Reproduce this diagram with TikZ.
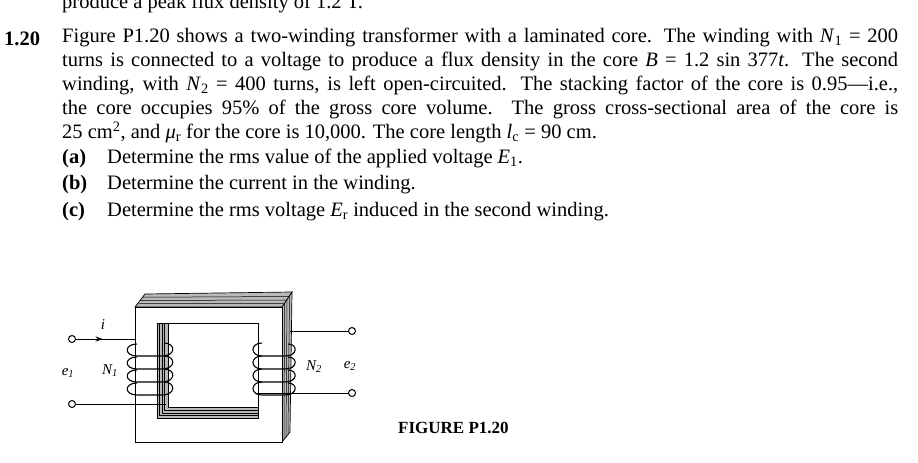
\documentclass[tikz,border=0pt]{standalone}
\usepackage{fontspec}
\setmainfont{Liberation Serif}
\usetikzlibrary{arrows.meta,decorations.markings}
\newcommand{\vv}[2]{\textit{#1}\textsubscript{#2}}
\begin{document}
\begin{tikzpicture}[x=1pt,y=-1pt,
  txt/.style={font=\fontsize{20.5}{24}\selectfont,inner sep=0pt},
  bf/.style={font=\fontsize{20.5}{24}\selectfont\bfseries,inner sep=0pt},
  term/.style={circle,draw,line width=1pt,minimum size=7pt,inner sep=0pt,fill=white},
  wire/.style={line width=1pt},
  coil/.style={line width=1.1pt},
  lab/.style={font=\fontsize{15}{15}\selectfont\itshape,inner sep=1pt},
  lam/.style={fill=gray!55,draw=black,line width=0.7pt}]
\useasboundingbox (0,0) rectangle (918,463);
% text
\node[txt,anchor=base west] (t0) at (62,9) {produce a peak flux density of 1.2 T.};
\node[bf,anchor=base west] (num) at (4,45) {1.20};
\node[txt,anchor=north west,text width=836pt,align=justify] (par) at (62,28) {Figure P1.20 shows a two-winding transformer with a laminated core. The winding with \vv{N}{1} = 200\linebreak
turns is connected to a voltage to produce a flux density in the core \textit{B} = 1.2 sin 377\textit{t}. The second\linebreak
winding, with \vv{N}{2} = 400 turns, is left open-circuited. The stacking factor of the core is 0.95---i.e.,\linebreak
the core occupies 95\% of the gross core volume. The gross cross-sectional area of the core is\linebreak
25 cm\textsuperscript{2}, and \textit{μ}\textsubscript{r} for the core is 10,000. The core length \vv{l}{c} = 90 cm.};
\node[bf,anchor=base west] (ia) at (62,163) {(a)};
\node[txt,anchor=base west] (ta) at (107,163) {Determine the rms value of the applied voltage \vv{E}{1}.};
\node[bf,anchor=base west] (ib) at (62,189) {(b)};
\node[txt,anchor=base west] (tb) at (107,189) {Determine the current in the winding.};
\node[bf,anchor=base west] (ic) at (62,216) {(c)};
\node[txt,anchor=base west] (tc) at (107,216) {Determine the rms voltage \vv{E}{r} induced in the second winding.};
\node[anchor=base west,inner sep=0pt,font=\fontsize{17}{17}\selectfont\bfseries] (fig) at (398,433) {FIGURE P1.20};
% core
\draw[lam] (135,307) -- (145,294) -- (292,292) -- (282,307) -- cycle;
\draw[lam] (282,307) -- (292,292) -- (290,432) -- (282,442) -- cycle;
\foreach \d in {2.5,5,7.5} {
  \draw[line width=0.5pt] (135+\d,307-\d*1.3) -- (282+\d,307-\d*1.4);
  \draw[line width=0.5pt] (282+\d,307-\d*1.4) -- (282+\d*0.8,442-\d);
}
\fill[white,draw=black,line width=1pt,even odd rule] (135,307) rectangle (282,442) (157,323) rectangle (258,418);
\draw[lam] (157,323) -- (168,323) -- (168,407) -- (258,407) -- (258,418) -- (157,418) -- cycle;
\foreach \d in {2.5,5,7.5} {
  \draw[line width=0.5pt] (157+\d,323) -- (157+\d,418-\d) -- (258,418-\d);
}
\draw[line width=1pt] (157,323) rectangle (258,418);
% terminals and wires
\node[term] (a1) at (72,339) {};
\node[term] (a2) at (72,404) {};
\node[term] (b1) at (352,331) {};
\node[term] (b2) at (352,393) {};
\coordinate (l1) at (135,339);
\coordinate (l2) at (166,404);
\coordinate (r1) at (290,331);
\coordinate (r2) at (255,393);
\draw[wire,postaction={decorate},decoration={markings,mark=at position 0.45 with {\arrow{Stealth[length=7pt]}}}] (a1) -- (l1);
\draw[wire] (a2) -- (l2);
\draw[wire] (r1) -- (b1);
\draw[wire] (r2) -- (b2);
% coils
\foreach \y in {350,363,376,389} {
  \draw[coil] (137,\y-6) .. controls (124,\y-6) and (124,\y+6) .. (137,\y+6) -- (162,\y+6) .. controls (176,\y+6) and (176,\y-7) .. (164,\y-7);
  \draw[coil] (262,\y-7) .. controls (250,\y-7) and (250,\y+6) .. (262,\y+6) -- (285,\y+6) .. controls (298,\y+6) and (298,\y-6) .. (288,\y-6);
}
% labels
\node[lab] (li) at (103,325) {i};
\node[lab] (le1) at (68,373) {\vv{e}{1}};
\node[lab] (ln1) at (110,371) {\vv{N}{1}};
\node[lab] (ln2) at (314,367) {\vv{N}{2}};
\node[lab] (le2) at (350,366) {\vv{e}{2}};
\end{tikzpicture}
\end{document}
